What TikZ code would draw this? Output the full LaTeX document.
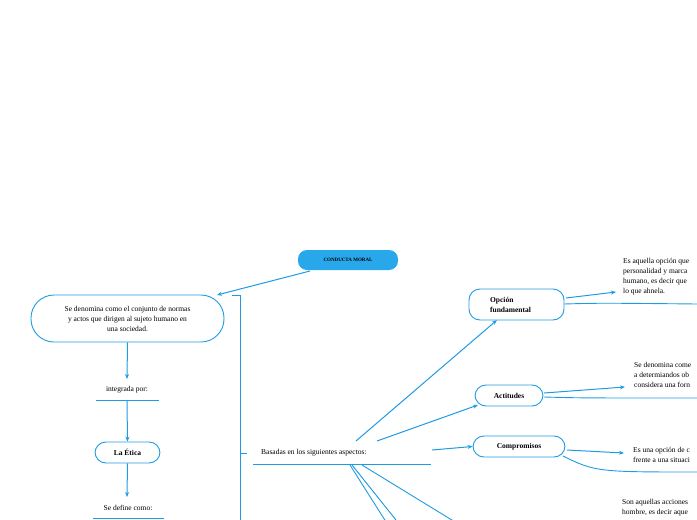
\documentclass[tikz,border=0pt]{standalone}
\usepackage{fontspec}
\usetikzlibrary{arrows.meta}
\setmainfont{Liberation Serif}
\definecolor{cb}{RGB}{30,155,226}
\definecolor{cf}{RGB}{40,168,234}
\begin{document}
\begin{tikzpicture}[x=1pt,y=-1pt,
  bx/.style={draw=cb,line width=0.9pt,rounded corners=11pt,font=\fontsize{7.5}{10}\selectfont\bfseries},
  ar/.style={draw=cb,line width=1pt,-{Stealth[length=5pt,width=4pt]}},
  ln/.style={draw=cb,line width=0.9pt},
  tx/.style={font=\fontsize{7.5}{10}\selectfont,align=left,anchor=north west,inner sep=0pt}]
\useasboundingbox (0,0) rectangle (697,520);
\clip (0,0) rectangle (697,520);
\node[fill=cf,rounded corners=9pt,minimum width=100pt,minimum height=20pt,font=\fontsize{5}{6}\selectfont\bfseries] (cm) at (348,260) {CONDUCTA MORAL};
\node[draw=cb,line width=0.9pt,rounded corners=23pt,minimum width=193pt,minimum height=47pt,align=center,font=\fontsize{7.5}{10}\selectfont] (def) at (127.5,318.5) {Se denomina como el conjunto de normas\\y actos que dirigen al sujeto humano en\\una sociedad.};
\draw[ar] (310,271) -- (217,295);
\node[font=\fontsize{7.5}{10}\selectfont] (int) at (127,390) {integrada por:};
\draw[ln] (96,400) -- (159,400);
\draw[ar] (def.south) -- (127,379);
\node[bx,minimum width=65pt,minimum height=21pt] (etica) at (127.5,452.5) {La Ética};
\draw[ar] (127,401) -- (etica.north);
\node[font=\fontsize{7.5}{10}\selectfont] (sd) at (128,508) {Se define como:};
\draw[ln] (93,518) -- (164,518);
\draw[ar] (etica.south) -- (127,497);
\draw[ln] (232,295) -- (240,295) -- (240,520);
\draw[ln] (240,453) -- (247,453);
\node[font=\fontsize{7.5}{10}\selectfont,anchor=west,inner sep=0pt] (bas) at (261,453) {Basadas en los siguientes aspectos:};
\draw[ln] (253,464) -- (431,464);
\node[bx,minimum width=95pt,minimum height=31pt,align=left] (op) at (516.5,304.5) {\hspace*{-12pt}Opción\\\hspace*{-12pt}fundamental};
\node[bx,minimum width=68pt,minimum height=21pt] (act) at (509,395.5) {Actitudes};
\node[bx,minimum width=92pt,minimum height=21pt] (com) at (519,446.5) {Compromisos};
\draw[ar] (356,441) -- (497,320);
\draw[ar] (377,441) -- (478,405);
\draw[ar] (432,450) -- (com.west);
\draw[ln] (350,465) -- (388,525);
\draw[ln] (352,465) -- (400,525);
\draw[ln] (362,465) -- (460,525);
\draw[ar] (566,298) -- (616,292);
\node[tx] (t1) at (623,258) {Es aquella opción que\\personalidad y marca\\humano, es decir que\\lo que ahnela.};
\draw[ln] (564,304) .. controls (600,303) .. (697,304);
\draw[ar] (544,393) -- (625,387);
\node[tx] (t2) at (634,362) {Se denomina come\\a determiandos ob\\considera una forn};
\draw[ln] (544,397) .. controls (580,398) .. (697,398);
\draw[ar] (567,450) -- (624,453);
\node[tx] (t3) at (633,447) {Es una opción de c\\frente a una situaci};
\draw[ln] (563,456) .. controls (595,472) and (600,472) .. (697,472);
\node[tx] (t4) at (622,499) {Son aquellas acciones\\hombre, es decir aque};
\end{tikzpicture}
\end{document}
